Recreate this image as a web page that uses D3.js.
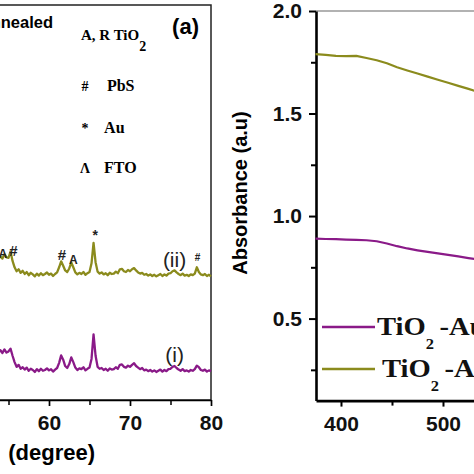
<!DOCTYPE html>
<html>
<head>
<meta charset="utf-8">
<script src="https://cdn.jsdelivr.net/npm/d3@7"></script>
<style>
  body { margin: 0; background: #fff; }
  svg { display: block; }
  .sans { font-family: "Liberation Sans", Arial, sans-serif; font-weight: bold; }
  .serif { font-family: "Liberation Serif", "Times New Roman", serif; font-weight: bold; }
  .plain { font-family: "Liberation Sans", Arial, sans-serif; font-weight: normal; }
</style>
</head>
<body>
<script>
  const width = 474;
  const height = 474;

  const purple = "#8a1a88";
  const olive = "#8b8b1d";

  // ---- panel (a): XRD, scan from 53 to 80 deg, step 0.25 ----
  const scanStart = 53, scanEnd = 80, scanStep = 0.25;
  const twoTheta = d3.range(scanStart, scanEnd + 0.001, scanStep);

  // (i) lower trace
  const xrdI = [
    11.8, 12.4, 11.5, 12.1,  12.6, 11.9, 12.8, 12.0,  12.3, 13.0, 11.2, 9.6,
    8.4, 8.9, 7.9, 8.3,      7.7, 8.2, 7.4, 7.9,      7.6, 7.1, 7.8, 7.3,
    7.9, 7.4, 7.6, 8.0,      7.5, 7.8, 7.2, 7.7,      8.1, 9.4, 11.3, 10.2,
    8.6, 8.1, 9.1, 10.8,     9.6, 8.2, 7.6, 8.0,      7.8, 8.3, 7.5, 7.9,
    8.2, 10.4, 16.6, 11.2,   8.4, 7.9, 8.1, 7.6,      7.9, 7.4, 8.0, 7.7,
    7.8, 8.3, 7.9, 8.9,      9.0, 8.4, 8.2, 8.7,      8.4, 8.9, 9.3, 8.6,
    8.2, 7.8, 8.1, 7.5,      7.7, 7.3, 7.6, 7.2,      7.5, 7.1, 7.4, 7.7,
    7.2, 7.6, 7.3, 7.8,      7.9, 8.4, 8.6, 8.1,      7.7, 7.4, 7.8, 7.3,
    7.5, 7.2, 7.6, 7.4,      7.8, 8.7, 8.3, 7.6,      7.4, 7.7, 7.2, 7.5,
    7.3
  ];

  // (ii) upper trace
  const xrdII = [
    35.6, 36.2, 35.4, 36.0,  36.3, 35.8, 36.9, 36.1,  36.0, 37.6, 35.2, 33.6,
    32.6, 33.1, 32.2, 32.7,  31.9, 32.4, 31.6, 32.2,  31.8, 31.3, 32.0, 31.5,
    32.1, 31.6, 31.9, 32.3,  31.7, 32.0, 31.4, 31.9,  32.3, 33.6, 35.1, 34.0,
    32.8, 32.4, 33.3, 34.8,  33.6, 32.3, 31.8, 32.2,  31.9, 32.4, 31.7, 32.1,
    32.4, 34.6, 39.8, 34.9,  32.5, 32.0, 32.3, 31.8,  32.1, 31.6, 32.2, 31.9,
    32.0, 32.5, 32.1, 33.1,  33.2, 32.6, 32.4, 32.9,  32.6, 33.1, 33.4, 32.8,
    32.3, 32.0, 32.2, 31.7,  31.9, 31.5, 31.8, 31.4,  31.7, 31.3, 31.6, 31.9,
    31.4, 31.8, 31.5, 32.0,  32.1, 32.6, 32.8, 32.3,  31.9, 31.6, 32.0, 31.5,
    31.7, 31.4, 31.8, 31.6,  32.0, 33.6, 32.4, 31.8,  31.6, 31.9, 31.4, 31.7,
    31.3
  ];

  const xrdTicks = [60, 70, 80];
  const xrdMinor = [55, 65, 75];

  // peak marks: [text, angle, level, size]
  const peakMarks = [
    ["A", 54.3, 36.0, 12],
    ["#", 55.6, 36.5, 15],
    ["#", 61.6, 35.4, 15],
    ["A", 63.0, 34.4, 12],
    ["*", 65.7, 40.6, 14],
    ["#", 78.35, 35.2, 10]
  ];
  const traceNames = [["(ii)", 75.5, 33.7], ["(i)", 75.5, 9.6]];

  // phase key
  const keySymbols = ["#", "*", "\u039B"];
  const keyNames = ["PbS", "Au", "FTO"];
  const keyLevels = [78.2, 67.6, 57.5];

  // ---- panel (b): absorbance ----
  const wavelength = [375, 385, 395, 405, 415, 425, 435, 445, 455, 465, 475, 485, 495, 505, 515, 525, 535, 545];
  const absAu = [0.890, 0.888, 0.887, 0.885, 0.884, 0.882, 0.877, 0.866, 0.853, 0.842, 0.833, 0.825, 0.818, 0.811, 0.803, 0.795, 0.788, 0.780];
  const absA  = [1.790, 1.786, 1.781, 1.780, 1.781, 1.771, 1.760, 1.745, 1.726, 1.710, 1.695, 1.680, 1.665, 1.650, 1.635, 1.620, 1.605, 1.590];
  const absTicks = [0.5, 1.0, 1.5, 2.0];
  const absMinor = [0.25, 0.75, 1.25, 1.75];
  const nmTicks = [400, 500];
  const nmMinor = [450];
  const legendNames = ["-Au", "-A"];
  const legendColors = [purple, olive];

  const svg = d3.select("body").append("svg")
    .attr("width", width)
    .attr("height", height);

  ////////////////////// panel (a)

  const lx = d3.scaleLinear().domain([20, 80]).range([-275, 211]);
  const ly = d3.scaleLinear().domain([0, 100]).range([400, 5]);

  svg.append("rect")
    .attr("x", lx(20)).attr("y", ly(100))
    .attr("width", lx(80) - lx(20)).attr("height", ly(0) - ly(100))
    .attr("fill", "none").attr("stroke", "#222").attr("stroke-width", 1.5);

  const xAxisA = svg.append("g")
    .attr("class", "sans")
    .attr("transform", `translate(0,${ly(0)})`)
    .call(d3.axisBottom(lx).tickValues(xrdTicks).tickSize(6).tickSizeOuter(0).tickPadding(9).tickFormat(d3.format("d")));
  xAxisA.selectAll("text").attr("font-size", 21).attr("fill", "#111");
  xAxisA.select(".domain").attr("stroke-width", 1.7);
  xAxisA.selectAll(".tick line").attr("stroke-width", 1.7);

  const xMinorA = svg.append("g")
    .attr("transform", `translate(0,${ly(0)})`)
    .call(d3.axisBottom(lx).tickValues(xrdMinor).tickSize(5).tickFormat(""));
  xMinorA.select(".domain").remove();
  xMinorA.selectAll(".tick line").attr("stroke-width", 1.5);

  svg.append("text")
    .attr("class", "sans")
    .attr("x", 95).attr("y", 460)
    .attr("text-anchor", "end")
    .attr("font-size", 22)
    .text("(degree)");

  const xrdLine = d3.line().x((d, i) => lx(twoTheta[i])).y(d => ly(d));
  [[xrdI, purple], [xrdII, olive]].forEach(([vals, col]) => {
    svg.append("path")
      .datum(vals)
      .attr("d", xrdLine)
      .attr("fill", "none")
      .attr("stroke", col)
      .attr("stroke-width", 2.3)
      .attr("stroke-linejoin", "round");
  });

  svg.selectAll(".peak")
    .data(peakMarks)
    .join("text")
    .attr("class", "sans peak")
    .attr("x", d => lx(d[1])).attr("y", d => ly(d[2]))
    .attr("text-anchor", "middle")
    .attr("font-size", d => d[3])
    .attr("fill", "#222")
    .text(d => d[0]);

  svg.selectAll(".tname")
    .data(traceNames)
    .join("text")
    .attr("class", "plain tname")
    .attr("x", d => lx(d[1])).attr("y", d => ly(d[2]))
    .attr("text-anchor", "middle")
    .attr("font-size", 21)
    .attr("fill", "#222")
    .text(d => d[0]);

  svg.append("text")
    .attr("class", "sans")
    .attr("x", lx(60.5)).attr("y", ly(94.2))
    .attr("text-anchor", "end")
    .attr("font-size", 16.5)
    .text("Annealed");

  svg.append("text")
    .attr("class", "sans")
    .attr("x", lx(75.2)).attr("y", ly(92.7))
    .attr("font-size", 22)
    .text("(a)");

  const titleKey = svg.append("text")
    .attr("class", "serif")
    .attr("x", lx(63.95)).attr("y", ly(91.1))
    .attr("font-size", 15);
  titleKey.append("tspan").text("A, R TiO");
  titleKey.append("tspan").attr("font-size", 14).attr("dy", 11).text("2");

  svg.selectAll(".ksym")
    .data(keySymbols)
    .join("text")
    .attr("class", "serif ksym")
    .attr("x", lx(64.45)).attr("y", (d, i) => ly(keyLevels[i]))
    .attr("text-anchor", "middle")
    .attr("font-size", 14)
    .text(d => d);

  svg.selectAll(".kname")
    .data(keyNames)
    .join("text")
    .attr("class", "serif kname")
    .attr("x", (d, i) => lx(i === 0 ? 67.15 : 66.8)).attr("y", (d, i) => ly(keyLevels[i]))
    .attr("font-size", 16)
    .text(d => d);

  ////////////////////// panel (b)

  const rx = d3.scaleLinear().domain([375.5, 600]).range([316, 316 + 224.5 * 1.02]);
  const ry = d3.scaleLinear().domain([0.1, 2.0]).range([400.6, 11]);

  svg.append("line")
    .attr("x1", rx(375.5)).attr("x2", rx(600))
    .attr("y1", ry(2.0)).attr("y2", ry(2.0))
    .attr("stroke", "#999").attr("stroke-width", 1.5);

  const yAxisB = svg.append("g")
    .attr("class", "sans")
    .attr("transform", `translate(${rx(375.5)},0)`)
    .call(d3.axisLeft(ry).tickValues(absTicks).tickSize(7).tickSizeOuter(0).tickPadding(7).tickFormat(d3.format(".1f")));
  yAxisB.selectAll("text").attr("font-size", 21).attr("fill", "#111");
  yAxisB.select(".domain").attr("stroke-width", 2.6);
  yAxisB.selectAll(".tick line").attr("stroke-width", 2);

  const yMinorB = svg.append("g")
    .attr("transform", `translate(${rx(375.5)},0)`)
    .call(d3.axisLeft(ry).tickValues(absMinor).tickSize(5).tickFormat(""));
  yMinorB.select(".domain").remove();
  yMinorB.selectAll(".tick line").attr("stroke-width", 2);

  const xAxisB = svg.append("g")
    .attr("class", "sans")
    .attr("transform", `translate(0,${ry(0.1)})`)
    .call(d3.axisBottom(rx).tickValues(nmTicks).tickSize(6).tickSizeOuter(0).tickPadding(9).tickFormat(d3.format("d")));
  xAxisB.selectAll("text").attr("font-size", 21).attr("fill", "#111");
  xAxisB.select(".domain").attr("stroke-width", 2.6);
  xAxisB.selectAll(".tick line").attr("stroke-width", 2);

  const xMinorB = svg.append("g")
    .attr("transform", `translate(0,${ry(0.1)})`)
    .call(d3.axisBottom(rx).tickValues(nmMinor).tickSize(5).tickFormat(""));
  xMinorB.select(".domain").remove();
  xMinorB.selectAll(".tick line").attr("stroke-width", 2);

  svg.append("text")
    .attr("class", "sans")
    .attr("transform", "translate(247,193) rotate(-90)")
    .attr("text-anchor", "middle")
    .attr("font-size", 20)
    .text("Absorbance (a.u)");

  const absLine = d3.line().x((d, i) => rx(wavelength[i])).y(d => ry(d));
  [[absAu, purple], [absA, olive]].forEach(([vals, col]) => {
    svg.append("path")
      .datum(vals)
      .attr("d", absLine)
      .attr("fill", "none")
      .attr("stroke", col)
      .attr("stroke-width", 2.2)
      .attr("stroke-linejoin", "round");
  });

  // legend
  const legendX = 322, legendY = 327, legendGap = 42;
  const legend = svg.selectAll(".leg")
    .data(legendNames)
    .join("g")
    .attr("class", "leg")
    .attr("transform", (d, i) => `translate(${legendX},${legendY + i * legendGap})`);

  legend.append("line")
    .attr("x1", 0).attr("x2", 53)
    .attr("stroke", (d, i) => legendColors[i])
    .attr("stroke-width", 2.6);

  const legText = legend.append("text")
    .attr("class", "serif")
    .attr("transform", (d, i) => `translate(${55 + i * 5},8) scale(1.1,1)`)
    .attr("font-size", 26)
    .attr("fill", "#111");
  legText.append("tspan").text("TiO");
  legText.append("tspan").attr("font-size", 15).attr("dy", 14).text("2");
  legText.append("tspan").attr("dy", -14).attr("dx", 5).text(d => d);
</script>
</body>
</html>
